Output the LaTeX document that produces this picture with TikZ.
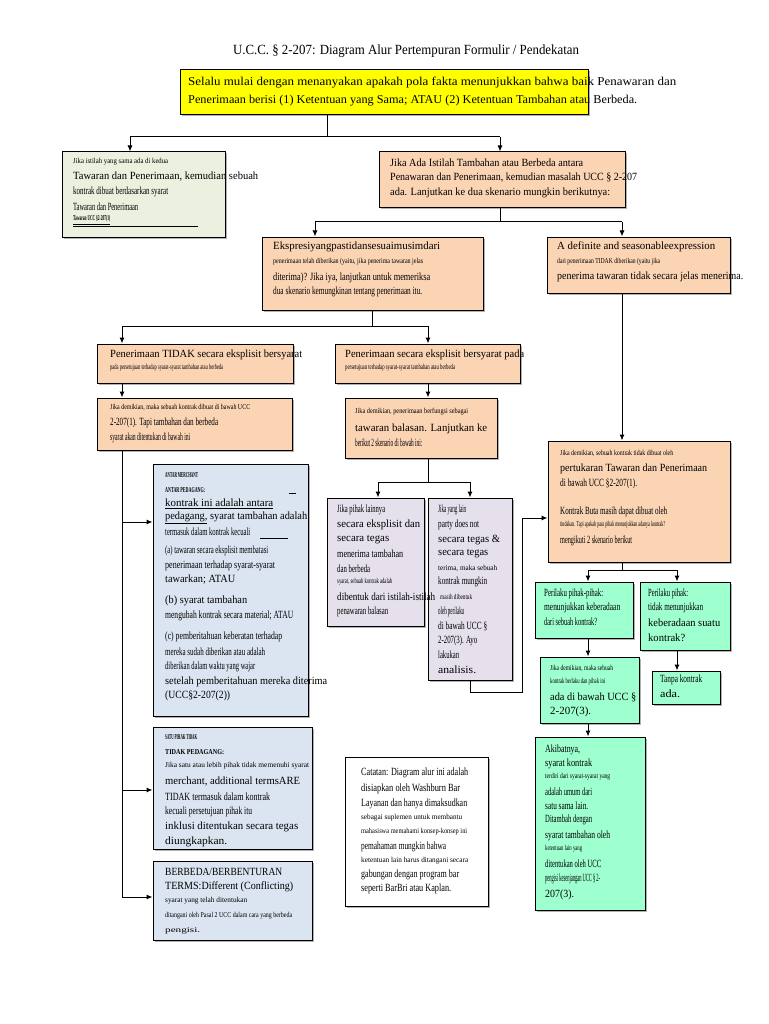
\documentclass[tikz,border=0pt]{standalone}
\usepackage{fontspec}
\setmainfont{Liberation Serif}
\usepackage{graphicx}
\usetikzlibrary{arrows.meta,shadows}
\definecolor{yel}{HTML}{FFFF00}
\definecolor{grn}{HTML}{EBF1DE}
\definecolor{org}{HTML}{FBD4B4}
\definecolor{blu}{HTML}{DBE5F1}
\definecolor{lav}{HTML}{E5E0EC}
\definecolor{aqu}{HTML}{9EFFCF}
\newcounter{tlc}
\newcommand{\lnN}[4]{\stepcounter{tlc}\node[txt] (t\thetlc) at (#1,#2) {\resizebox{#3pt}{\height}{#4}};}
\newcommand{\lnS}[4]{\stepcounter{tlc}\node[txt] (t\thetlc) at (#1,#2) {\resizebox{#3pt}{\height}{\fontsize{7.5}{8}\selectfont #4}};}
\newcommand{\bx}[6]{\node[box,#6,minimum width={(#4-#2)*1pt},minimum height={(#5-#3)*1pt}] (#1) at ({(#2+#4)/2},{(#3+#5)/2}) {};}
\tikzset{
  box/.style={draw=black, line width=1pt, inner sep=0pt, drop shadow={shadow xshift=1.5pt, shadow yshift=-1.5pt, fill=black!60}},
  txt/.style={anchor=west, inner sep=0pt, font=\fontsize{11}{12}\selectfont},
  ln/.style={line width=1pt},
  arr/.style={line width=1pt, -{Latex[length=6pt,width=5pt]}}
}
\begin{document}
\begin{tikzpicture}[x=1pt,y=-1pt]
\useasboundingbox[fill=white] (0,0) rectangle (768,1024);
% boxes
\bx{Y}{180}{70}{588}{115}{fill=yel}
\bx{G1}{62}{152}{225}{237}{fill=grn}
\bx{O1}{379}{152}{625}{208}{fill=org}
\bx{A}{262}{237}{483}{310}{fill=org}
\bx{B}{547}{237}{730}{293}{fill=org}
\bx{C}{97}{344}{293}{383}{fill=org}
\bx{D}{335}{344}{520}{383}{fill=org}
\bx{E}{97}{398}{292}{450}{fill=org}
\bx{F}{153}{464}{308}{716}{fill=blu}
\bx{G}{153}{727}{312}{849}{fill=blu}
\bx{H}{153}{861}{312}{940}{fill=blu}
\bx{I}{345}{398}{497}{458}{fill=org}
\bx{J}{327}{498}{424}{626}{fill=lav}
\bx{K}{428}{498}{512}{680}{fill=lav}
\bx{L}{548}{441}{730}{562}{fill=org}
\bx{M}{535}{582}{633}{638}{fill=aqu}
\bx{N}{640}{582}{730}{650}{fill=aqu}
\bx{O}{540}{657}{639}{723}{fill=aqu}
\bx{P}{652}{671}{720}{704}{fill=aqu}
\bx{Q}{535}{737}{645}{910}{fill=aqu}
\bx{Nt}{345}{757}{488}{906}{fill=white}
% connectors
\coordinate (j1) at (327,137);
\coordinate (j1a) at (130,137);
\coordinate (j1b) at (500,137);
\draw[ln] (Y.south -| j1) -- (j1);
\draw[ln] (j1a) -- (j1b);
\draw[arr] (j1a) -- (j1a |- G1.north);
\draw[arr] (j1b) -- (j1b |- O1.north);
\coordinate (j2) at (500,222);
\coordinate (j2a) at (315,222);
\coordinate (j2b) at (622,222);
\draw[ln] (O1.south -| j2) -- (j2);
\draw[ln] (j2a) -- (j2b);
\draw[arr] (j2a) -- (j2a |- A.north);
\draw[arr] (j2b) -- (j2b |- B.north);
\coordinate (j3) at (372,326);
\coordinate (j3a) at (122,326);
\coordinate (j3b) at (428,326);
\draw[ln] (A.south -| j3) -- (j3);
\draw[ln] (j3a) -- (j3b);
\draw[arr] (j3a) -- (j3a |- C.north);
\draw[arr] (j3b) -- (j3b |- D.north);
\draw[arr] (C.south -| j3a) -- (E.north -| j3a);
\coordinate (bF) at (122,522);
\coordinate (bG) at (122,790);
\coordinate (bH) at (122,897);
\draw[ln] (E.south -| bH) -- (bH);
\draw[arr] (bF) -- (bF -| F.west);
\draw[arr] (bG) -- (bG -| G.west);
\draw[arr] (bH) -- (bH -| H.west);
\draw[arr] (D.south -| j3b) -- (I.north -| j3b);
\coordinate (j5) at (428,482);
\coordinate (j5a) at (378,482);
\coordinate (j5b) at (470,482);
\draw[ln] (I.south -| j5) -- (j5);
\draw[ln] (j5a) -- (j5b);
\draw[arr] (j5a) -- (j5a |- J.north);
\draw[arr] (j5b) -- (j5b |- K.north);
\coordinate (k1) at (470,692);
\coordinate (k2) at (522,692);
\coordinate (k3) at (522,518);
\draw[arr] (K.south -| k1) -- (k1) -- (k2) -- (k3) -- (k3 -| L.west);
\coordinate (j6) at (622,570);
\coordinate (j6a) at (588,570);
\coordinate (j6b) at (677,570);
\draw[arr] (B.south -| j6) -- (L.north -| j6);
\draw[ln] (L.south -| j6) -- (j6);
\draw[ln] (j6a) -- (j6b);
\draw[arr] (j6a) -- (j6a |- M.north);
\draw[arr] (j6b) -- (j6b |- N.north);
\draw[arr] (M.south -| j6a) -- (O.north -| j6a);
\draw[arr] (N.south -| j6b) -- (P.north -| j6b);
\draw[arr] (O.south -| j6a) -- (Q.north -| j6a);
% title
\node[inner sep=0pt] (title) at (406,51) {\resizebox{346pt}{\height}{\fontsize{14}{16}\selectfont U.C.C. § 2-207: Diagram Alur Pertempuran Formulir / Pendekatan}};
% yellow
\stepcounter{tlc}\node[txt] (t\thetlc) at (188,83) {\resizebox{488pt}{\height}{\fontsize{12}{14}\selectfont Selalu mulai dengan menanyakan apakah pola fakta menunjukkan bahwa baik Penawaran dan}};
\stepcounter{tlc}\node[txt] (t\thetlc) at (188,101) {\resizebox{449pt}{\height}{\fontsize{12}{14}\selectfont Penerimaan berisi (1) Ketentuan yang Sama; ATAU (2) Ketentuan Tambahan atau Berbeda.}};
% G1
\lnS{73}{162}{95}{Jika istilah yang sama ada di kedua}
\lnN{73}{177}{185}{Tawaran dan Penerimaan, kemudian sebuah}
\lnN{73}{192}{95}{kontrak dibuat berdasarkan syarat}
\lnN{73}{207}{65}{Tawaran dan Penerimaan}
\lnS{73}{220}{37}{\bfseries\underline{Tawaran UCC §2-207(1)}}
\draw[line width=0.8pt] (73,226) -- (198,226);
% O1
\lnN{390}{163}{193}{Jika Ada Istilah Tambahan atau Berbeda antara}
\lnN{390}{178}{247}{Penawaran dan Penerimaan, kemudian masalah UCC § 2-207}
\lnN{390}{193}{220}{ada. Lanjutkan ke dua skenario mungkin berikutnya:}
% A
\lnN{273}{247}{167}{Ekspresiyangpastidansesuaimusimdari}
\lnS{273}{262}{150}{penerimaan telah diberikan (yaitu, jika penerima tawaran jelas}
\lnN{273}{278}{157}{diterima)? Jika iya, lanjutkan untuk memeriksa}
\lnN{273}{292}{149}{dua skenario kemungkinan tentang penerimaan itu.}
% B
\lnN{557}{247}{158}{A definite and seasonableexpression}
\lnS{557}{262}{103}{dari penerimaan TIDAK diberikan (yaitu jika}
\lnN{557}{277}{186}{penerima tawaran tidak secara jelas menerima.}
% C
\lnN{110}{355}{192}{Penerimaan TIDAK secara eksplisit bersyarat}
\lnS{110}{368}{113}{pada persetujuan terhadap syarat-syarat tambahan atau berbeda}
% D
\lnN{345}{355}{179}{Penerimaan secara eksplisit bersyarat pada}
\lnS{345}{368}{110}{persetujuan terhadap syarat-syarat tambahan atau berbeda}
% E
\lnS{110}{407}{140}{Jika demikian, maka sebuah kontrak dibuat di bawah UCC}
\lnN{110}{423}{108}{2-207(1). Tapi tambahan dan berbeda}
\lnN{110}{438}{80}{syarat akan ditentukan di bawah ini}
% F
\lnS{165}{475}{33}{\bfseries ANTAR MERCHANT}
\lnS{165}{490}{40}{\bfseries ANTAR PEDAGANG:}
\draw[line width=0.8pt] (289,493) -- (296,493);
\lnN{165}{504}{108}{\underline{kontrak ini adalah antara}}
\lnN{165}{518}{142}{\underline{pedagang,} syarat tambahan adalah}
\lnN{165}{532}{85}{termasuk dalam kontrak kecuali}
\draw[line width=0.8pt] (260,538) -- (288,538);
\lnN{165}{551}{103}{(a) tawaran secara eksplisit membatasi}
\lnN{165}{566}{110}{penerimaan terhadap syarat-syarat}
\lnN{165}{580}{70}{tawarkan; ATAU}
\lnN{165}{601}{82}{(b) syarat tambahan}
\lnN{165}{616}{128}{mengubah kontrak secara material; ATAU}
\lnN{165}{637}{117}{(c) pemberitahuan keberatan terhadap}
\lnN{165}{652}{100}{mereka sudah diberikan atau adalah}
\lnN{165}{667}{90}{diberikan dalam waktu yang wajar}
\lnN{165}{682}{162}{setelah pemberitahuan mereka diterima}
\lnN{165}{696}{65}{(UCC§2-207(2))}
% G
\lnS{165}{737}{32}{\bfseries SATU PIHAK TIDAK}
\lnS{165}{752}{59}{\bfseries TIDAK PEDAGANG:}
\lnS{165}{766}{144}{Jika satu atau lebih pihak tidak memenuhi syarat}
\lnN{165}{782}{135}{merchant, additional termsARE}
\lnN{165}{797}{105}{TIDAK termasuk dalam kontrak}
\lnN{165}{812}{87}{kecuali persetujuan pihak itu}
\lnN{165}{827}{133}{inklusi ditentukan secara tegas}
\lnN{165}{842}{62}{diungkapkan.}
% H
\lnN{165}{872}{117}{BERBEDA/BERBENTURAN}
\lnN{165}{887}{128}{TERMS:Different (Conflicting)}
\lnS{165}{901}{82}{syarat yang telah ditentukan}
\lnS{165}{916}{127}{ditangani oleh Pasal 2 UCC dalam cara yang berbeda}
\lnS{165}{931}{35}{pengisi.}
% I
\lnS{355}{412}{113}{Jika demikian, penerimaan berfungsi sebagai}
\lnN{355}{429}{132}{tawaran balasan. Lanjutkan ke}
\lnN{355}{443}{67}{berikut 2 skenario di bawah ini:}
% J
\lnN{337}{510}{48}{Jika pihak lainnya}
\lnN{337}{525}{83}{secara eksplisit dan}
\lnN{337}{540}{52}{secara tegas}
\lnN{337}{554}{66}{menerima tambahan}
\lnN{337}{569}{33}{dan berbeda}
\lnS{337}{582}{55}{syarat, sebuah kontrak adalah}
\lnN{337}{597}{98}{dibentuk dari istilah-istilah}
\lnN{337}{612}{51}{penawaran balasan}
% K
\lnN{438}{510}{28}{Jika yang lain}
\lnN{438}{525}{41}{party does not}
\lnN{438}{540}{62}{secara tegas \&}
\lnN{438}{554}{50}{secara tegas}
\lnS{438}{568}{59}{terima, maka sebuah}
\lnN{438}{582}{49}{kontrak mungkin}
\lnS{440}{597}{32}{masih dibentuk}
\lnN{438}{612}{26}{oleh perilaku}
\lnN{438}{626}{49}{di bawah UCC §}
\lnN{438}{641}{39}{2-207(3). Ayo}
\lnN{438}{655}{21}{lakukan}
\lnN{438}{670}{38}{analisis.}
% L
\lnS{560}{453}{113}{Jika demikian, sebuah kontrak tidak dibuat oleh}
\lnN{560}{469}{147}{pertukaran Tawaran dan Penerimaan}
\lnN{560}{484}{77}{di bawah UCC §2-207(1).}
\lnN{560}{512}{107}{Kontrak Buta masih dapat dibuat oleh}
\lnS{560}{525}{105}{tindakan. Tapi apakah para pihak menunjukkan adanya kontrak?}
\lnN{560}{541}{72}{mengikuti 2 skenario berikut}
% M
\lnN{544}{594}{59}{Perilaku pihak-pihak:}
\lnN{544}{608}{76}{menunjukkan keberadaan}
\lnN{544}{622}{53}{dari sebuah kontrak?}
% N
\lnN{648}{594}{40}{Perilaku pihak:}
\lnN{648}{608}{55}{tidak menunjukkan}
\lnN{648}{623}{72}{keberadaan suatu}
\lnN{648}{638}{37}{kontrak?}
% O
\lnS{550}{668}{63}{Jika demikian, maka sebuah}
\lnS{550}{682}{55}{kontrak berlaku dan pihak ini}
\lnN{550}{697}{86}{ada di bawah UCC §}
\lnN{550}{712}{41}{2-207(3).}
% P
\lnN{660}{680}{42}{Tanpa kontrak}
\lnN{660}{694}{20}{ada.}
% Q
\lnN{545}{750}{35}{Akibatnya,}
\lnN{545}{764}{47}{syarat kontrak}
\lnS{545}{777}{65}{terdiri dari syarat-syarat yang}
\lnN{545}{792}{47}{adalah umum dari}
\lnN{545}{806}{43}{satu sama lain.}
\lnN{545}{820}{47}{Ditambah dengan}
\lnN{545}{836}{65}{syarat tambahan oleh}
\lnS{545}{849}{37}{ketentuan lain yang}
\lnN{545}{864}{56}{ditentukan oleh UCC}
\lnN{545}{879}{55}{pengisi kesenjangan UCC § 2-}
\lnN{545}{895}{29}{207(3).}
% Note
\lnN{361}{773}{107}{Catatan: Diagram alur ini adalah}
\lnN{361}{789}{99}{disiapkan oleh Washburn Bar}
\lnN{361}{804}{106}{Layanan dan hanya dimaksudkan}
\lnS{361}{818}{101}{sebagai suplemen untuk membantu}
\lnS{361}{832}{106}{mahasiswa memahami konsep-konsep ini}
\lnN{361}{847}{85}{pemahaman mungkin bahwa}
\lnS{361}{861}{107}{ketentuan lain harus ditangani secara}
\lnN{361}{875}{98}{gabungan dengan program bar}
\lnN{361}{889}{90}{seperti BarBri atau Kaplan.}
\end{tikzpicture}
\end{document}
